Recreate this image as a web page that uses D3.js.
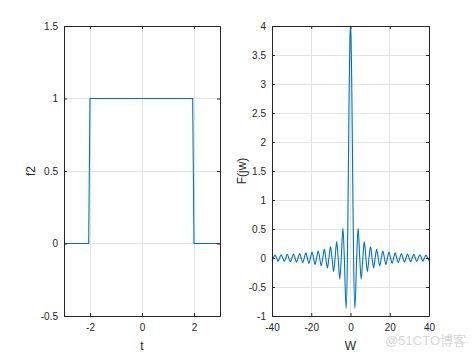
<!DOCTYPE html>
<html>
<head>
<meta charset="utf-8">
<script src="https://cdn.jsdelivr.net/npm/d3@7"></script>
<style>
  html, body { margin: 0; padding: 0; background: #fff; }
  svg { display: block; }
  text { font-family: "Liberation Sans", Arial, Helvetica, sans-serif; fill: #262626; }
</style>
</head>
<body>
<svg id="chart" width="474" height="355"></svg>
<script>
// ---------- data ----------
const tVals  = [-3, -2.05, -2, 1.95, 2, 3];
const f2Vals = [0, 0, 1, 1, 0, 0];

const wVals = [
  -40, -39.270, -38.478, -37.699, -36.907, -36.128, -35.336, -34.558, -33.765, -32.987,
  -32.194, -31.416, -30.622, -29.845, -29.051, -28.274, -27.480, -26.704, -25.909, -25.133,
  -24.337, -23.562, -22.766, -21.991, -21.194, -20.420, -19.622, -18.850, -18.050, -17.279,
  -16.478, -15.708, -14.906, -14.137, -13.333, -12.566, -11.760, -10.996, -10.186, -9.425,
  -8.610, -7.854, -7.033, -6.283, -5.452, -4.712, -3.863, -3.142, -2.247, -1.571,
  -1.25, -1.0, -0.75, -0.5, -0.25, 0,
  0.25, 0.5, 0.75, 1.0, 1.25,
  1.571, 2.247, 3.142, 3.863, 4.712, 5.452, 6.283, 7.033, 7.854, 8.610,
  9.425, 10.186, 10.996, 11.760, 12.566, 13.333, 14.137, 14.906, 15.708, 16.478,
  17.279, 18.050, 18.850, 19.622, 20.420, 21.194, 21.991, 22.766, 23.562, 24.337,
  25.133, 25.909, 26.704, 27.480, 28.274, 29.051, 29.845, 30.622, 31.416, 32.194,
  32.987, 33.765, 34.558, 35.336, 36.128, 36.907, 37.699, 38.478, 39.270, 40
];
const FVals = [
  -0.045, 0, 0.052, 0, -0.054, 0, 0.057, 0, -0.059, 0,
  0.062, 0, -0.065, 0, 0.069, 0, -0.073, 0, 0.077, 0,
  -0.082, 0, 0.088, 0, -0.094, 0, 0.102, 0, -0.111, 0,
  0.121, 0, -0.134, 0, 0.150, 0, -0.170, 0, 0.196, 0,
  -0.232, 0, 0.284, 0, -0.365, 0, 0.514, 0, -0.869, 0,
  0.957, 1.819, 2.660, 3.366, 3.835, 4,
  3.835, 3.366, 2.660, 1.819, 0.957,
  0, -0.869, 0, 0.514, 0, -0.365, 0, 0.284, 0, -0.232,
  0, 0.196, 0, -0.170, 0, 0.150, 0, -0.134, 0, 0.121,
  0, -0.111, 0, 0.102, 0, -0.094, 0, 0.088, 0, -0.082,
  0, 0.077, 0, -0.073, 0, 0.069, 0, -0.065, 0, 0.062,
  0, -0.059, 0, 0.057, 0, -0.054, 0, 0.052, 0, -0.045
];

const tTicks  = [-2, 0, 2];
const f2Ticks = [-0.5, 0, 0.5, 1, 1.5];
const wTicks  = [-40, -20, 0, 20, 40];
const FTicks  = [-1, -0.5, 0, 0.5, 1, 1.5, 2, 2.5, 3, 3.5, 4];

// ---------- drawing ----------
const svg = d3.select("#chart");
const axisColor = "#262626";
const gridColor = "#e3e3e3";
const lineColor = "#0072BD";

function panel(opts) {
  const { x0, x1, y0, y1, xDom, yDom, xTicks, yTicks, xs, ys, curve, xLabel, yLabel, yLabelX } = opts;
  const x = d3.scaleLinear().domain(xDom).range([x0, x1]);
  const y = d3.scaleLinear().domain(yDom).range([y1, y0]);
  const g = svg.append("g");

  // grid
  g.append("g").selectAll("line").data(xTicks).join("line")
    .attr("x1", d => x(d)).attr("x2", d => x(d))
    .attr("y1", y0).attr("y2", y1)
    .attr("stroke", gridColor).attr("stroke-width", 1).attr("shape-rendering", "crispEdges");
  g.append("g").selectAll("line").data(yTicks).join("line")
    .attr("x1", x0).attr("x2", x1)
    .attr("y1", d => y(d)).attr("y2", d => y(d))
    .attr("stroke", gridColor).attr("stroke-width", 1).attr("shape-rendering", "crispEdges");

  // data line
  const pts = xs.map((v, i) => [v, ys[i]]);
  const line = d3.line().x(d => x(d[0])).y(d => y(d[1])).curve(curve);
  g.append("path").datum(pts)
    .attr("d", line)
    .attr("fill", "none").attr("stroke", lineColor).attr("stroke-width", 1.1);

  // axes (inward ticks), box
  const tl = 3;
  const fmt = d => String(d).replace("-", "-");
  const bottom = d3.axisBottom(x).tickValues(xTicks).tickSizeInner(-tl).tickSizeOuter(0).tickPadding(8).tickFormat(fmt);
  const top = d3.axisTop(x).tickValues(xTicks).tickSizeInner(-tl).tickSizeOuter(0).tickFormat("");
  const left = d3.axisLeft(y).tickValues(yTicks).tickSizeInner(-tl).tickSizeOuter(0).tickPadding(6).tickFormat(fmt);
  const right = d3.axisRight(y).tickValues(yTicks).tickSizeInner(-tl).tickSizeOuter(0).tickFormat("");

  const styleAxis = sel => {
    sel.select(".domain").attr("stroke", axisColor);
    sel.selectAll(".tick line").attr("stroke", axisColor);
    sel.selectAll(".tick text").attr("fill", axisColor)
      .style("font-family", '"Liberation Sans", Arial, sans-serif').style("font-size", "10px");
  };
  g.append("g").attr("transform", `translate(0,${y1})`).call(bottom).call(styleAxis);
  g.append("g").attr("transform", `translate(0,${y0})`).call(top).call(styleAxis);
  g.append("g").attr("transform", `translate(${x0},0)`).call(left).call(styleAxis);
  g.append("g").attr("transform", `translate(${x1},0)`).call(right).call(styleAxis);

  // labels
  g.append("text").attr("x", (x0 + x1) / 2).attr("y", 350)
    .attr("text-anchor", "middle").style("font-size", "12px").text(xLabel);
  g.append("text")
    .attr("transform", `translate(${yLabelX},${(y0 + y1) / 2}) rotate(-90)`)
    .attr("text-anchor", "middle").style("font-size", "12px").text(yLabel);
}

panel({
  x0: 64, x1: 220, y0: 26, y1: 316,
  xDom: [-3, 3], yDom: [-0.5, 1.5],
  xTicks: tTicks, yTicks: f2Ticks,
  xs: tVals, ys: f2Vals, curve: d3.curveLinear,
  xLabel: "t", yLabel: "f2", yLabelX: 35
});

panel({
  x0: 272, x1: 429, y0: 26, y1: 316,
  xDom: [-40, 40], yDom: [-1, 4],
  xTicks: wTicks, yTicks: FTicks,
  xs: wVals, ys: FVals, curve: d3.curveMonotoneX,
  xLabel: "W", yLabel: "F(jw)", yLabelX: 246
});

// watermark
svg.append("text").attr("x", 466).attr("y", 345)
  .attr("text-anchor", "end")
  .style("font-family", '"Liberation Sans", "Noto Sans CJK SC", sans-serif')
  .style("font-size", "13px").style("fill", "#d6d6d6")
  .text("@51CTO博客");
</script>
</body>
</html>
